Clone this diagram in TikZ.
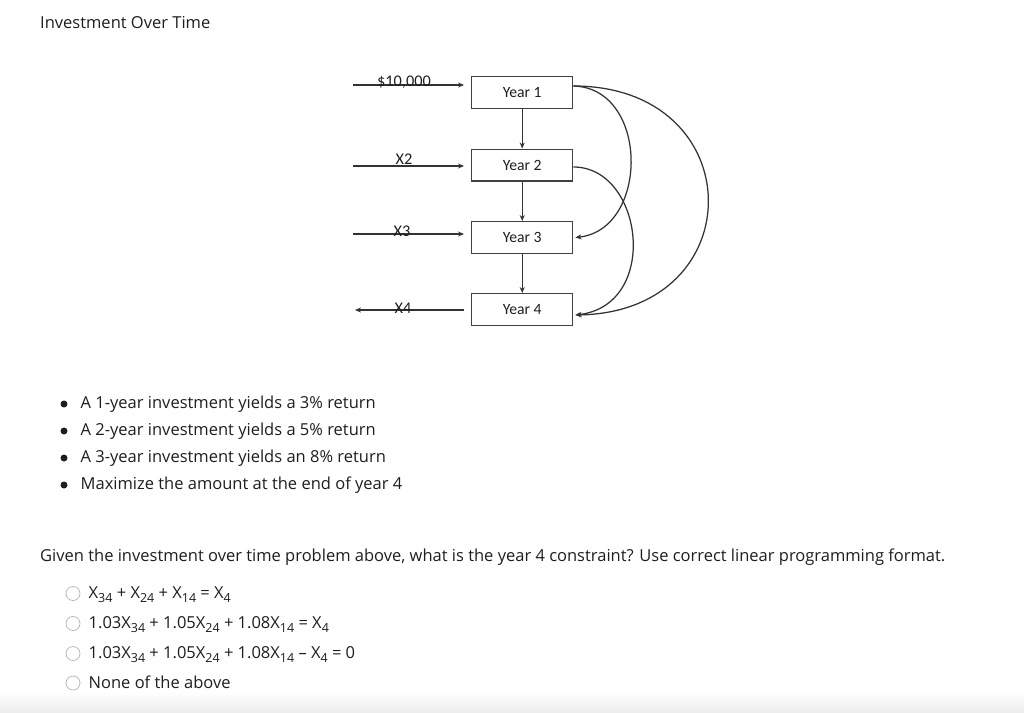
\documentclass[tikz,border=0pt]{standalone}
\usepackage{fontspec}
\setmainfont{Open Sans}
\newfontfamily\diagfont{Carlito}
\usetikzlibrary{arrows.meta,calc}
\definecolor{linegray}{HTML}{333333}
\definecolor{boxgray}{HTML}{404040}
\definecolor{textc}{HTML}{1E1E1E}
\newcommand\subx[1]{\raisebox{-3.5pt}{\fontsize{12.5}{13}\selectfont #1}}
\begin{document}
\begin{tikzpicture}[x=1pt,y=-1pt,
 yearbox/.style={draw=boxgray, line width=1.4pt, minimum width=101pt, minimum height=31.6pt, inner sep=0pt, font=\diagfont\fontsize{15.7}{17}\selectfont, text=textc},
 flow/.style={draw=linegray, line width=1.25pt, -{Stealth[length=6pt,width=5pt]}},
 lbl/.style={font=\diagfont\fontsize{16.3}{17}\selectfont, anchor=base, inner sep=0pt, text=textc},
 txt/.style={font=\fontsize{16.5}{19}\selectfont, anchor=base west, inner sep=0pt, text=textc},
 bul/.style={circle, fill=textc, minimum size=7pt, inner sep=0pt},
 radio/.style={circle, draw=gray!55, minimum size=14pt, inner sep=0pt, line width=0.8pt}
]
\useasboundingbox (0,0) rectangle (1024,712);
\shade[top color=white, bottom color=black!7] (0,692) rectangle (1024,712);

% title
\node[txt] (title) at (40,28) {Investment Over Time};

% diagram boxes
\node[yearbox] (y1) at (522.2,92.5) {Year 1};
\node[yearbox] (y2) at (522.2,165) {Year 2};
\node[yearbox] (y3) at (522.2,237.5) {Year 3};
\node[yearbox] (y4) at (522.2,309.5) {Year 4};

% inflows
\coordinate (s1) at (353,85);
\coordinate (s2) at (353,166);
\coordinate (s3) at (353,234);
\coordinate (s4) at (355,310);
\draw[flow] (s1) -- ($(y1.west)+(-7,-7.5)$);
\draw[flow] (s2) -- ($(y2.west)+(-7,1)$);
\draw[flow] (s3) -- ($(y3.west)+(-7,-3.5)$);
\draw[flow] ($(y4.west)+(-7,0.5)$) -- (s4);
\node[lbl] (l1) at (404,86.7) {\$10,000};
\node[lbl] (l2) at (404,164) {X2};
\node[lbl] (l3) at (402,236.7) {X3};
\node[lbl] (l4) at (403,313) {X4};

% vertical flows
\draw[flow] (y1) -- (y2);
\draw[flow] (y2) -- (y3);
\draw[flow] (y3) -- (y4);

% curved flows
\draw[flow] ($(y1.east)+(0,-6.5)$) .. controls +(76,2) and +(74,-8) .. ($(y3.east)+(2,0)$);
\draw[flow] ($(y1.east)+(0,-6.5)$) .. controls +(178,0) and +(178,-3) .. ($(y4.east)+(2,5.5)$);
\draw[flow] ($(y2.east)+(0,2)$) .. controls +(70,0) and +(85,-10) .. ($(y4.east)+(2,5.5)$);

% bullets
\node[bul] (b1) at (64,404) {};
\node[bul] (b2) at (64,431) {};
\node[bul] (b3) at (64,458) {};
\node[bul] (b4) at (64,485) {};
\node[txt] (t1) at (80.5,408.5) {A 1-year investment yields a 3\% return};
\node[txt] (t2) at (80.5,435.5) {A 2-year investment yields a 5\% return};
\node[txt] (t3) at (80.5,462.5) {A 3-year investment yields an 8\% return};
\node[txt] (t4) at (80.5,489.5) {Maximize the amount at the end of year 4};

% question
\node[txt] (q) at (40,561) {Given the investment over time problem above, what is the year 4 constraint? Use correct linear programming format.};

% options
\node[radio] (r1) at (73,593.5) {};
\node[radio] (r2) at (73,623.5) {};
\node[radio] (r3) at (73,653.5) {};
\node[radio] (r4) at (73,683) {};
\node[txt] (o1) at (88.5,598.5) {X\subx{34} + X\subx{24} + X\subx{14} = X\subx{4}};
\node[txt] (o2) at (88.5,628.5) {1.03X\subx{34} + 1.05X\subx{24} + 1.08X\subx{14} = X\subx{4}};
\node[txt] (o3) at (88.5,658.5) {1.03X\subx{34} + 1.05X\subx{24} + 1.08X\subx{14} -- X\subx{4} = 0};
\node[txt] (o4) at (88.5,688) {None of the above};
\end{tikzpicture}
\end{document}
